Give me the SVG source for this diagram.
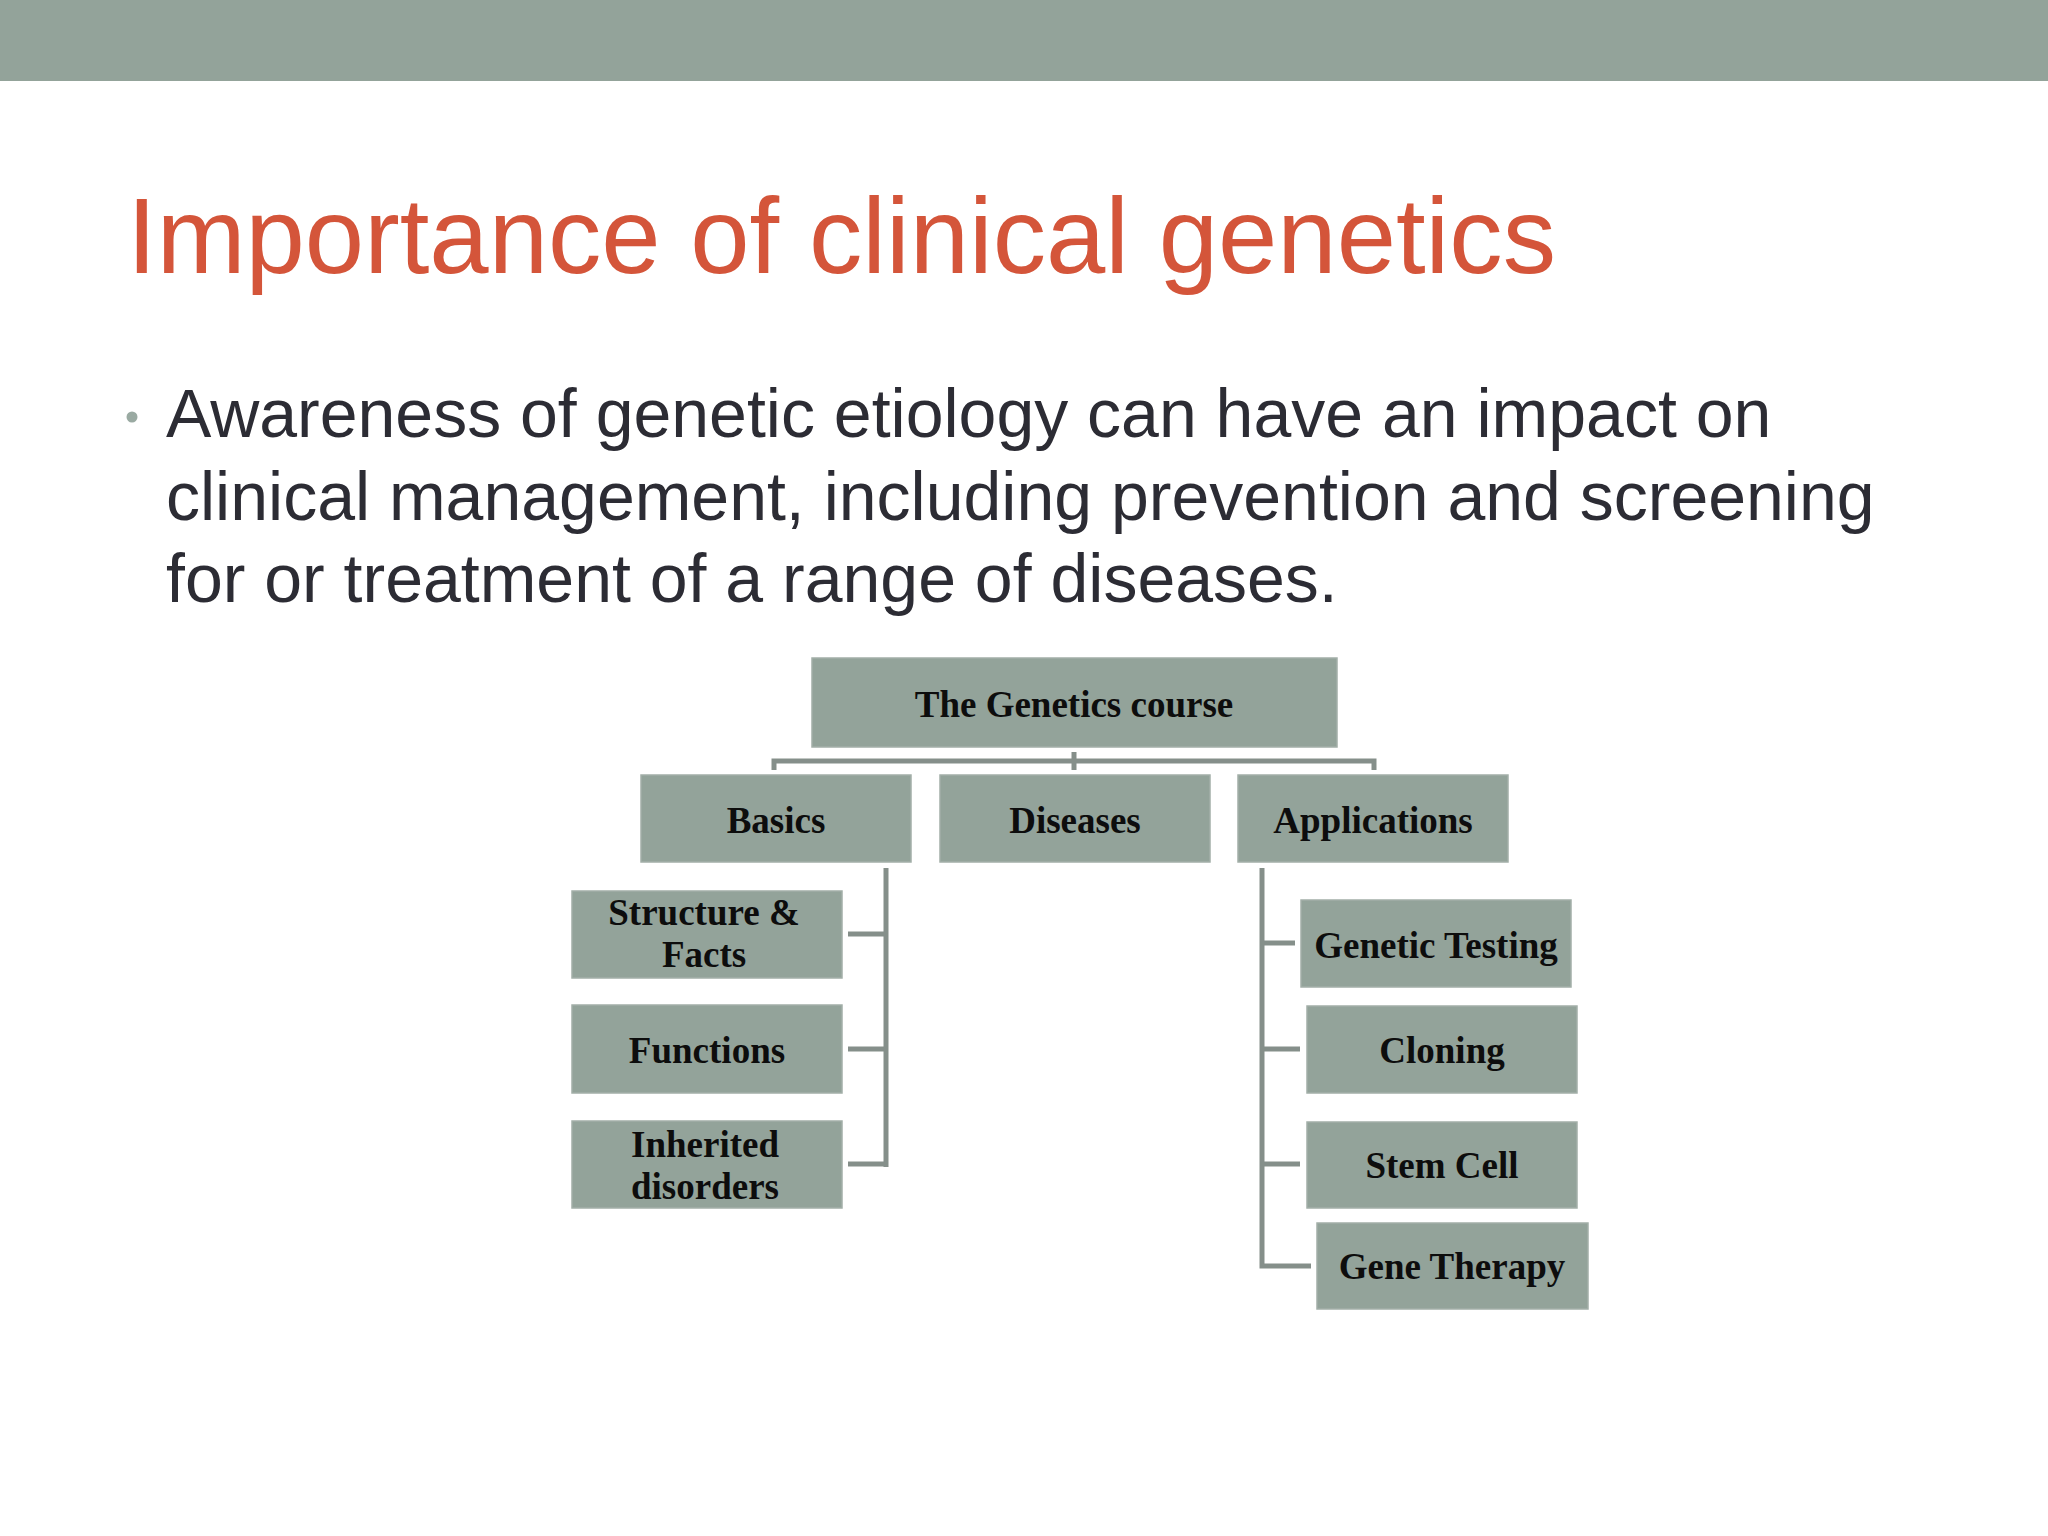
<svg xmlns="http://www.w3.org/2000/svg" width="2048" height="1536" viewBox="0 0 2048 1536">
<style>
.box{fill:#93A39A;stroke:#A3AFA8;stroke-width:1.5}
.lbl{font-family:"Liberation Serif","Times New Roman",serif;font-weight:bold;font-size:37px;fill:#0D0D0D;text-anchor:middle}
.conn{fill:none;stroke:#858F8A;stroke-width:5}
.body{font-family:"Liberation Sans",Arial,sans-serif;font-size:68px;fill:#2C2C34}
</style>
<rect width="2048" height="1536" fill="#FFFFFF"/>
<rect x="0" y="0" width="2048" height="81" fill="#93A39A"/>
<text x="127" y="273" font-family="'Liberation Sans',Arial,sans-serif" font-size="108" fill="#D4553A" textLength="1429" lengthAdjust="spacingAndGlyphs">Importance of clinical genetics</text>
<circle cx="132" cy="417" r="5.5" fill="#9AAAA2"/>
<text class="body" x="166" y="437">Awareness of genetic etiology can have an impact on</text>
<text class="body" x="166" y="520">clinical management, including prevention and screening</text>
<text class="body" x="166" y="602">for or treatment of a range of diseases.</text>
<g id="connectors">
<path class="conn" d="M774,770 V761 H1374 V770 M1074,752 V770"/>
<path class="conn" d="M886,868 V1167 M848,934 H886 M848,1049 H886 M848,1164 H886"/>
<path class="conn" d="M1262,868 V1266 H1311 M1262,943 H1295 M1262,1049 H1300 M1262,1164 H1300"/>
</g>
<g id="root"><rect class="box" x="812" y="658" width="525" height="89"/><text class="lbl" x="1074" y="717">The Genetics course</text></g>
<g id="basics"><rect class="box" x="641" y="775" width="270" height="87"/><text class="lbl" x="776" y="833">Basics</text></g>
<g id="diseases"><rect class="box" x="940" y="775" width="270" height="87"/><text class="lbl" x="1075" y="833">Diseases</text></g>
<g id="applications"><rect class="box" x="1238" y="775" width="270" height="87"/><text class="lbl" x="1373" y="833">Applications</text></g>
<g id="structure"><rect class="box" x="572" y="891" width="270" height="87"/><text class="lbl" x="704" y="925">Structure &amp;</text><text class="lbl" x="704" y="967">Facts</text></g>
<g id="functions"><rect class="box" x="572" y="1005" width="270" height="88"/><text class="lbl" x="707" y="1063">Functions</text></g>
<g id="inherited"><rect class="box" x="572" y="1121" width="270" height="87"/><text class="lbl" x="705" y="1157">Inherited</text><text class="lbl" x="705" y="1199">disorders</text></g>
<g id="genetic-testing"><rect class="box" x="1301" y="900" width="270" height="87"/><text class="lbl" x="1436" y="958">Genetic Testing</text></g>
<g id="cloning"><rect class="box" x="1307" y="1006" width="270" height="87"/><text class="lbl" x="1442" y="1063">Cloning</text></g>
<g id="stem-cell"><rect class="box" x="1307" y="1122" width="270" height="86"/><text class="lbl" x="1442" y="1178">Stem Cell</text></g>
<g id="gene-therapy"><rect class="box" x="1317" y="1223" width="271" height="86"/><text class="lbl" x="1452" y="1279">Gene Therapy</text></g>
</svg>
